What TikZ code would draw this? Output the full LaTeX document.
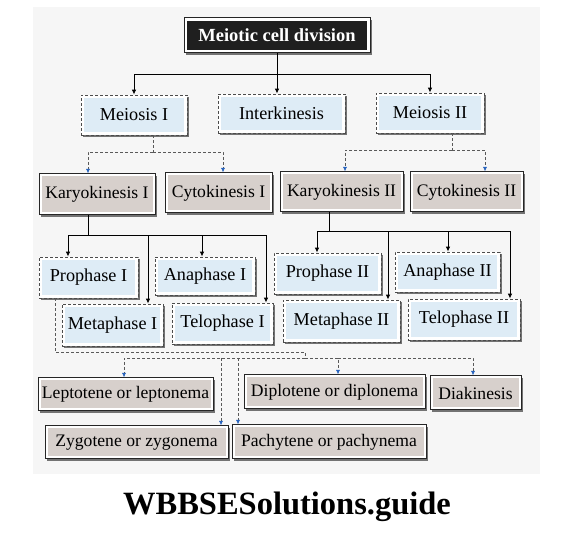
\documentclass[tikz,border=0pt]{standalone}
\usepackage{fontspec}
\setmainfont{Liberation Serif}
\usetikzlibrary{arrows.meta,shadows}
\definecolor{bleuclair}{RGB}{222,236,246}
\definecolor{grisrose}{RGB}{215,208,204}
\definecolor{fond}{RGB}{246,246,246}
\definecolor{bleupointe}{RGB}{40,100,190}
\begin{document}
\begin{tikzpicture}[x=1pt,y=-1pt]
\tikzstyle{ombre} = [drop shadow={shadow xshift=2pt, shadow yshift=-2pt, fill=black!55, opacity=1}];
\tikzstyle{titre} = [ombre, draw=black!85, line width=1pt, fill=white, inner sep=0pt, text=white,
  font=\fontsize{18.5}{20}\selectfont\bfseries,
  path picture={\fill[black!88] ([shift={(3pt,3pt)}]path picture bounding box.south west) rectangle ([shift={(-3pt,-3pt)}]path picture bounding box.north east);}];
\tikzstyle{bleu} = [ombre, draw=black!70, densely dashed, line width=0.8pt, fill=white, inner sep=0pt,
  font=\fontsize{18.2}{20}\selectfont,
  path picture={\fill[bleuclair] ([shift={(3pt,3pt)}]path picture bounding box.south west) rectangle ([shift={(-3pt,-3pt)}]path picture bounding box.north east);}];
\tikzstyle{gris} = [ombre, draw=black!85, line width=1pt, fill=white, inner sep=0pt,
  font=\fontsize{17.6}{20}\selectfont,
  path picture={\fill[grisrose] ([shift={(2.5pt,2.5pt)}]path picture bounding box.south west) rectangle ([shift={(-2.5pt,-2.5pt)}]path picture bounding box.north east);}];
\tikzstyle{trait} = [draw=black, line width=0.9pt];
\tikzstyle{fleche} = [trait, -{Latex[length=5pt,width=4.5pt]}];
\tikzstyle{tiret} = [draw=black!65, densely dashed, line width=0.8pt];
\tikzstyle{flechet} = [tiret, -{Latex[length=4.5pt,width=4pt,color=bleupointe]}];

\useasboundingbox (0,0) rectangle (587,534);
\fill[fond] (33,7) rectangle (540,474);

% niveaux du haut
\node[titre, minimum width=186pt, minimum height=35pt] (mc) at (277,35.5) {Meiotic cell division};
\node[bleu, minimum width=106pt, minimum height=40pt] (m1) at (134,115) {Meiosis I};
\node[bleu, minimum width=127pt, minimum height=39pt] (ik) at (281.5,113.5) {Interkinesis};
\node[bleu, minimum width=108pt, minimum height=40pt] (m2) at (430,113) {Meiosis II};

\node[gris, minimum width=116pt, minimum height=41pt] (ka1) at (97,194.5) {Karyokinesis I};
\node[gris, minimum width=107pt, minimum height=40pt] (cy1) at (218.5,193) {Cytokinesis I};
\node[gris, minimum width=123pt, minimum height=40pt] (ka2) at (341.5,192) {Karyokinesis II};
\node[gris, minimum width=113pt, minimum height=40pt] (cy2) at (466.5,192) {Cytokinesis II};

% phases
\node[bleu, minimum width=99pt, minimum height=41pt] (pro1) at (88.5,277.5) {Prophase I};
\node[bleu, minimum width=100pt, minimum height=38pt] (ana1) at (205,276) {Anaphase I};
\node[bleu, minimum width=101pt, minimum height=42pt] (met1) at (112.5,325) {Metaphase I};
\node[bleu, minimum width=101pt, minimum height=41pt] (tel1) at (222.5,323.5) {Telophase I};
\node[bleu, minimum width=107pt, minimum height=41pt] (pro2) at (327.5,273.5) {Prophase II};
\node[bleu, minimum width=105pt, minimum height=40pt] (ana2) at (447.5,272) {Anaphase II};
\node[bleu, minimum width=117pt, minimum height=42pt] (met2) at (341.5,321) {Metaphase II};
\node[bleu, minimum width=112pt, minimum height=41pt] (tel2) at (464,319.5) {Telophase II};

% sous-stades
\node[gris, minimum width=175pt, minimum height=33pt] (lep) at (125.5,394.5) {Leptotene or leptonema};
\node[gris, minimum width=183pt, minimum height=33pt] (zyg) at (136.5,442.5) {Zygotene or zygonema};
\node[gris, minimum width=181pt, minimum height=34pt] (dip) at (334.5,392) {Diplotene or diplonema};
\node[gris, minimum width=91pt, minimum height=34pt] (dia) at (475.5,393) {Diakinesis};
\node[gris, minimum width=194pt, minimum height=34pt] (pac) at (329,442) {Pachytene or pachynema};

\node[font=\fontsize{32.5}{34}\selectfont\bfseries, anchor=base] (wm) at (287,515) {WBBSESolutions.guide};

% liaisons
\coordinate (t) at (277,74);
\draw[trait] (mc) -- (t);
\draw[fleche] (t) -| (m1);
\draw[fleche] (t) -- (t |- ik.north);
\draw[fleche] (t) -| (m2);

\coordinate (d1) at (153,152);
\coordinate (d1a) at (88,152);
\coordinate (d1b) at (223,152);
\draw[tiret] (d1 |- m1.south) -- (d1);
\draw[flechet] (d1) -- (d1a) -- (d1a |- ka1.north);
\draw[flechet] (d1) -- (d1b) -- (d1b |- cy1.north);

\coordinate (d2) at (452,150);
\coordinate (d2a) at (345,150);
\coordinate (d2b) at (485,150);
\draw[tiret] (d2 |- m2.south) -- (d2);
\draw[flechet] (d2) -- (d2a) -- (d2a |- ka2.north);
\draw[flechet] (d2) -- (d2b) -- (d2b |- cy2.north);

\coordinate (k1) at (88,235);
\coordinate (k1a) at (68,235);
\coordinate (k1b) at (148,235);
\coordinate (k1c) at (202,235);
\coordinate (k1d) at (266,235);
\draw[trait] (k1 |- ka1.south) -- (k1);
\draw[fleche] (k1) -- (k1a) -- (k1a |- pro1.north);
\draw[fleche] (k1) -- (k1b) -- (k1b |- met1.north);
\draw[fleche] (k1b) -- (k1c) -- (k1c |- ana1.north);
\draw[fleche] (k1c) -- (k1d) -- (k1d |- tel1.north);

\coordinate (k2) at (329,231);
\coordinate (k2a) at (317,231);
\coordinate (k2b) at (388,231);
\coordinate (k2c) at (448,231);
\coordinate (k2d) at (510,231);
\draw[trait] (k2 |- ka2.south) -- (k2);
\draw[fleche] (k2) -- (k2a) -- (k2a |- pro2.north);
\draw[fleche] (k2) -- (k2b) -- (k2b |- met2.north);
\draw[fleche] (k2b) -- (k2c) -- (k2c |- ana2.north);
\draw[fleche] (k2c) -- (k2d) -- (k2d |- tel2.north);

\coordinate (p1) at (55,352);
\coordinate (p2) at (305,352);
\coordinate (p3) at (305,358);
\coordinate (pa) at (124,358);
\coordinate (pb) at (221,358);
\coordinate (pc) at (238,358);
\coordinate (pd) at (338,358);
\coordinate (pe) at (473,358);
\draw[tiret] (p1 |- pro1.south) -- (p1) -- (p2) -- (p3);
\draw[flechet] (p3) -- (pa) -- (pa |- lep.north);
\draw[flechet] (pb) -- (pb |- zyg.north);
\draw[flechet] (pc) -- (pc |- pac.north);
\draw[flechet] (p3) -- (pd) -- (pd |- dip.north);
\draw[flechet] (pd) -- (pe) -- (pe |- dia.north);
\end{tikzpicture}
\end{document}
